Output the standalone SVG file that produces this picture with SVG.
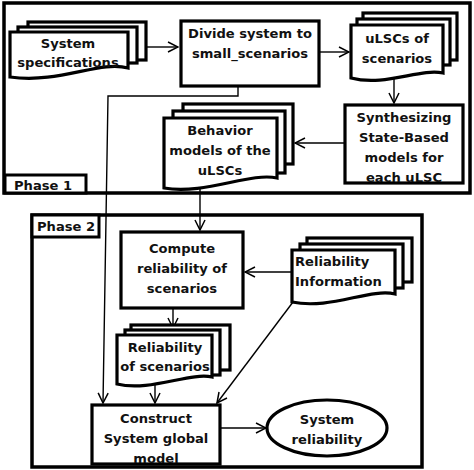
<svg xmlns="http://www.w3.org/2000/svg" width="474" height="470" viewBox="0 0 474 470">
<defs>
<style>
.t{font-family:"DejaVu Sans",Verdana,sans-serif;font-weight:bold;font-size:13.1px;fill:#111;text-anchor:middle}
.tl{text-anchor:start}
.box{fill:#fff;stroke:#000;stroke-width:3.2}
.ph{fill:none;stroke:#000;stroke-width:3.5}
.lbl{fill:#fff;stroke:#000;stroke-width:3}
.c{fill:none;stroke:#000;stroke-width:1.4}
.a{marker-end:url(#arr)}
</style>
<marker id="arr" viewBox="0 0 12 12" refX="11" refY="6" markerWidth="12" markerHeight="12" markerUnits="userSpaceOnUse" orient="auto">
<path d="M1,1 L11,6 L1,11" fill="none" stroke="#000" stroke-width="1.5"/>
</marker>
</defs>
<rect width="474" height="470" fill="#fff"/>

<g id="phase1">
<rect class="ph" x="4" y="3" width="466" height="190"/>
<rect class="lbl" x="5" y="175" width="81" height="18"/>
<text class="t tl" x="14" y="190">Phase 1</text>
</g>
<g id="phase2">
<rect class="ph" x="32" y="215" width="390" height="252"/>
<rect class="lbl" x="32" y="215" width="67" height="22"/>
<text class="t tl" x="37" y="231">Phase 2</text>
</g>

<g id="connectors">
<line class="c a" x1="146" y1="47" x2="178" y2="47"/>
<line class="c a" x1="319" y1="52" x2="349" y2="52"/>
<line class="c a" x1="394" y1="78" x2="394" y2="103"/>
<line class="c a" x1="345" y1="143" x2="295" y2="143"/>
<polyline class="c a" points="238,86 238,96 108,96 103,403"/>
<line class="c a" x1="200" y1="186" x2="200" y2="230"/>
<line class="c a" x1="292" y1="272" x2="245" y2="272"/>
<line class="c a" x1="173" y1="308" x2="173" y2="328"/>
<line class="c a" x1="155" y1="383" x2="155" y2="403"/>
<line class="c a" x1="293" y1="302" x2="217" y2="403"/>
<line class="c a" x1="220" y1="428" x2="266" y2="428"/>
</g>

<g id="sysspec">
<rect class="box" x="28" y="22" width="118" height="38"/>
<rect class="box" x="18" y="27" width="119" height="36"/>
<path class="box" d="M10,32 H128 V68 C100,60 60,84 10,77 Z"/>
<text class="t" x="68" y="48">System</text>
<text class="t" x="68" y="67">specifications</text>
</g>

<g id="divide">
<rect class="box" x="181" y="21" width="138" height="65"/>
<text class="t" x="250" y="38">Divide system to</text>
<text class="t" x="250" y="58">small_scenarios</text>
</g>

<g id="ulscs">
<rect class="box" x="363" y="13" width="94" height="47"/>
<rect class="box" x="357" y="19" width="93" height="46"/>
<path class="box" d="M351,25 H443 V73 C420,68 385,87 351,78 Z"/>
<text class="t" x="397" y="43">uLSCs of</text>
<text class="t" x="397" y="63">scenarios</text>
</g>

<g id="synth">
<rect class="box" x="345" y="105" width="118" height="78"/>
<text class="t" x="404" y="122">Synthesizing</text>
<text class="t" x="404" y="142">State-Based</text>
<text class="t" x="404" y="162">models for</text>
<text class="t" x="404" y="182">each uLSC</text>
</g>

<g id="behavior">
<rect class="box" x="183" y="104" width="110" height="60"/>
<rect class="box" x="173" y="111" width="112" height="62"/>
<path class="box" d="M164,118 H277 V178 C250,172 205,195 164,188 Z"/>
<text class="t" x="220" y="135">Behavior</text>
<text class="t" x="220" y="155">models of the</text>
<text class="t" x="220" y="175">uLSCs</text>
</g>

<g id="compute">
<rect class="box" x="121" y="232" width="122" height="76"/>
<text class="t" x="182" y="253">Compute</text>
<text class="t" x="182" y="273">reliability of</text>
<text class="t" x="182" y="293">scenarios</text>
</g>

<g id="relinfo">
<rect class="box" x="307" y="238" width="105" height="44"/>
<rect class="box" x="300" y="244" width="103" height="44"/>
<path class="box" d="M292,250 H395 V294 C370,288 330,310 292,302 Z"/>
<text class="t tl" x="295" y="266">Reliability</text>
<text class="t tl" x="295" y="286">Information</text>
</g>

<g id="relscen">
<rect class="box" x="131" y="325" width="99" height="45"/>
<rect class="box" x="125" y="330" width="95" height="45"/>
<path class="box" d="M117,335 H212 V377 C190,372 150,392 117,384 Z"/>
<text class="t" x="165" y="352">Reliability</text>
<text class="t" x="165" y="371">of scenarios</text>
</g>

<g id="construct">
<rect class="box" x="92" y="405" width="128" height="59"/>
<text class="t" x="156" y="423">Construct</text>
<text class="t" x="156" y="443">System global</text>
<text class="t" x="156" y="463">model</text>
</g>

<g id="sysrel">
<ellipse class="box" cx="327" cy="428" rx="60" ry="28"/>
<text class="t" x="327" y="424">System</text>
<text class="t" x="327" y="444">reliability</text>
</g>
</svg>
